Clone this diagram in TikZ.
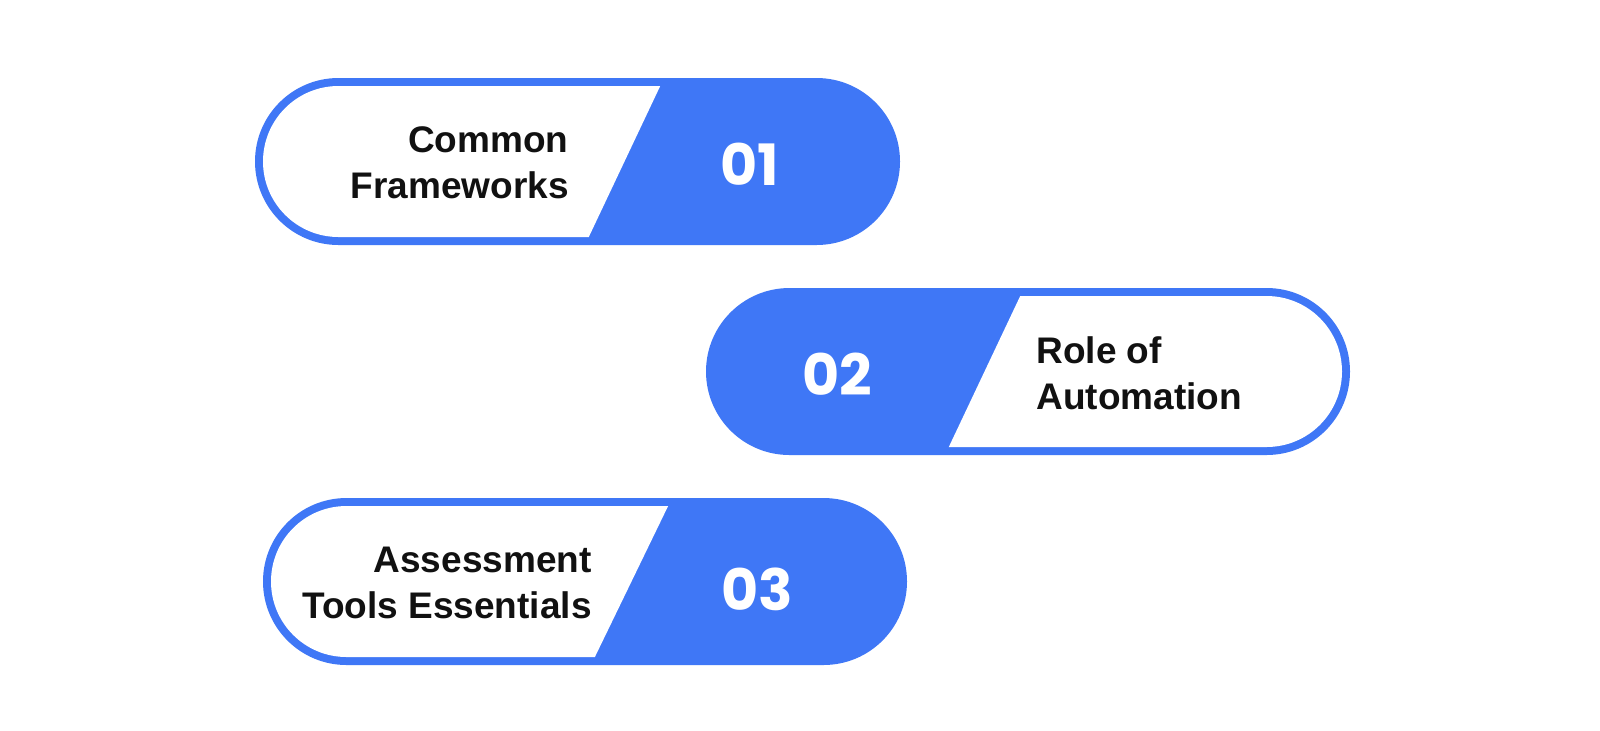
\documentclass[tikz,border=0pt]{standalone}
\usepackage{fontspec}
\setmainfont{Liberation Sans}
\newfontfamily\numfont{Poppins}
\usetikzlibrary{calc}
\definecolor{pillblue}{RGB}{63,119,246}
\definecolor{labelink}{RGB}{17,17,17}
\tikzset{
  outerpill/.style={fill=pillblue,rounded corners=41.75pt},
  innerpill/.style={rounded corners=37.75pt},
  itemtext/.style={font=\fontsize{18.5}{23}\selectfont\bfseries,text=labelink,inner sep=0pt},
  itemnum/.style={font=\numfont\fontsize{28.5}{28.5}\selectfont\bfseries,text=white,inner sep=0pt}
}

\begin{document}
\begin{tikzpicture}[x=0.5pt,y=-0.5pt]
	\useasboundingbox[fill=white] (0,0) rectangle (1600,730);
	% pill 01
	\fill[outerpill] (255,78) rectangle (900,245);
	\begin{scope}
		\clip[innerpill] (263,86) rectangle (892,237);
		\fill[white] (255,78) -- (664,78) -- (585,245) -- (255,245) -- cycle;
	\end{scope}
	\node[itemtext,anchor=east,align=right] (frameworks) at (569,163) {Common\\Frameworks};
	\node[itemnum] (n01) at (750,164) {01};
	% pill 02
	\fill[outerpill] (706,288) rectangle (1350,455);
	\begin{scope}
		\clip[innerpill] (714,296) rectangle (1342,447);
		\fill[white] (1024,288) -- (1350,288) -- (1350,455) -- (945,455) -- cycle;
	\end{scope}
	\node[itemtext,anchor=west,align=left] (automation) at (1036,373) {Role of\\Automation};
	\node[itemnum] (n02) at (837,374) {02};
	% pill 03
	\fill[outerpill] (263,498) rectangle (907,665);
	\begin{scope}
		\clip[innerpill] (271,506) rectangle (899,657);
		\fill[white] (263,498) -- (672,498) -- (591,665) -- (263,665) -- cycle;
	\end{scope}
	\node[itemtext,anchor=east,align=right] (assessment) at (592,583) {Assessment\\Tools Essentials};
	\node[itemnum] (n03) at (757,589) {03};
\end{tikzpicture}
\end{document}
